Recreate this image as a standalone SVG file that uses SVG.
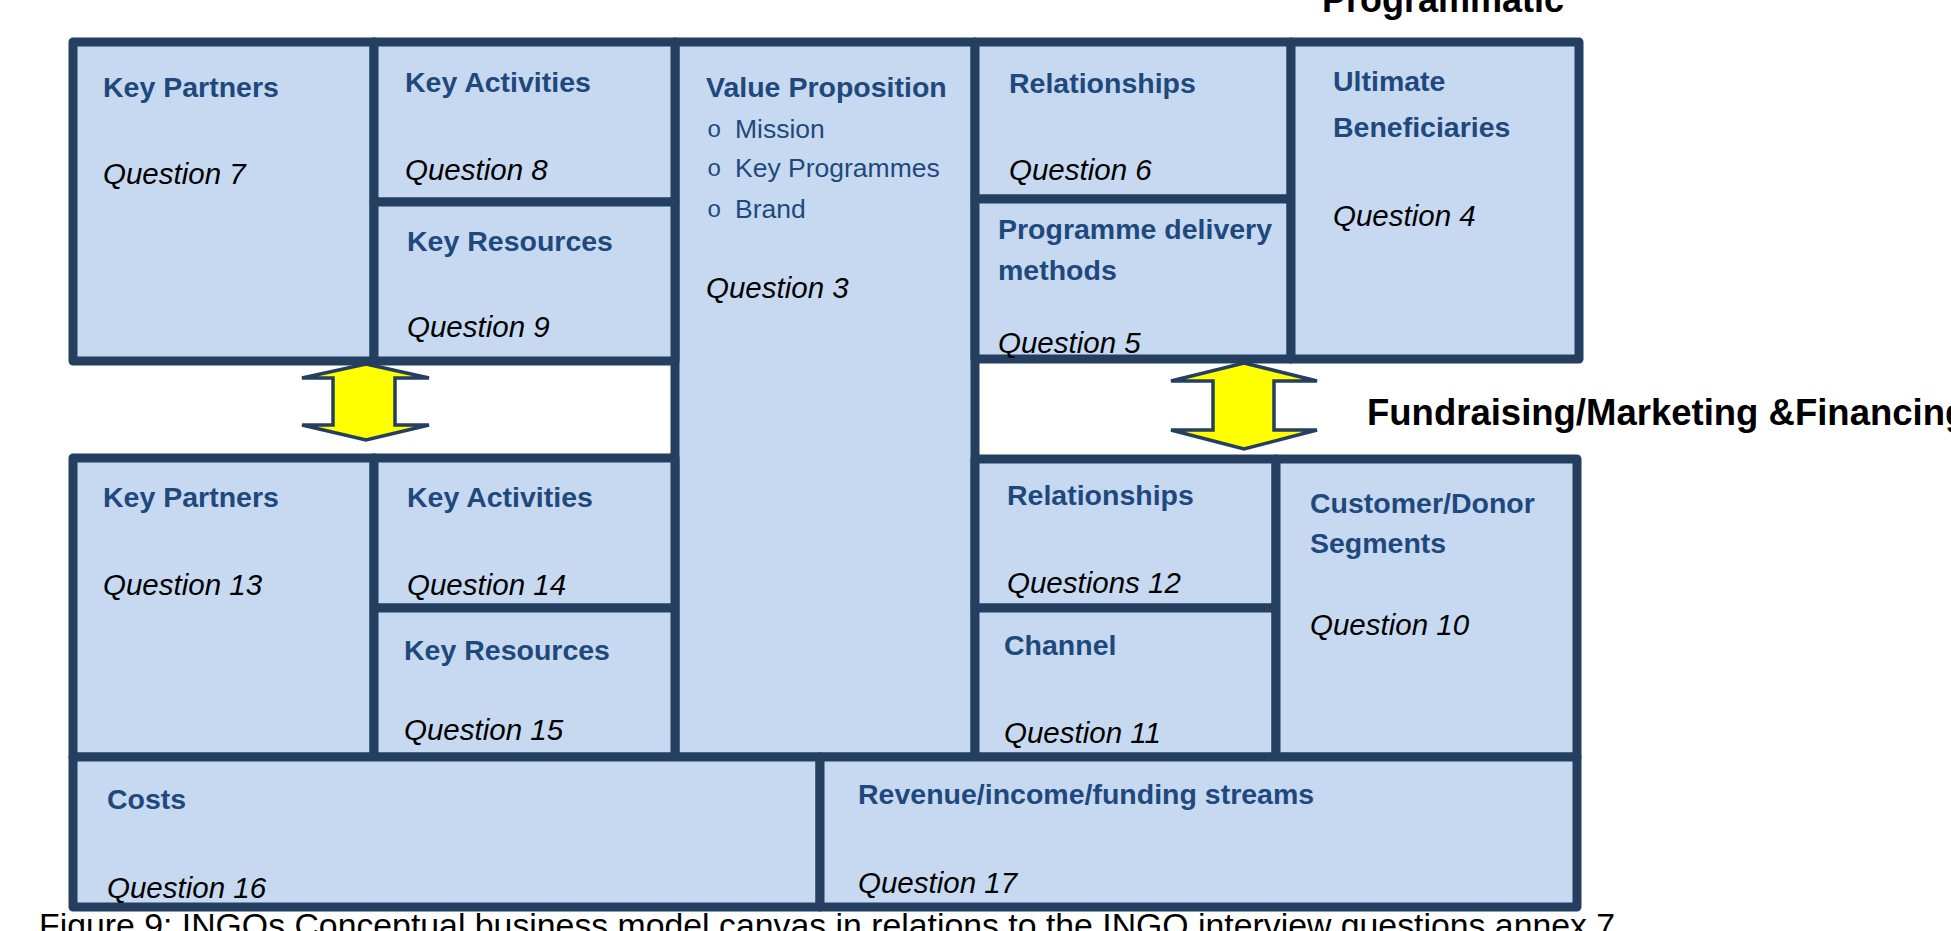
<svg xmlns="http://www.w3.org/2000/svg" width="1951" height="931" viewBox="0 0 1951 931">
<style>
.box{fill:#c6d9f1;stroke:#243f60;stroke-width:9;stroke-linejoin:round}
.h{font-family:"Liberation Sans",Arial,sans-serif;font-weight:bold;font-size:28.5px;fill:#1f497d}
.q{font-family:"Liberation Sans",Arial,sans-serif;font-style:italic;font-size:29.5px;fill:#000}
.b{font-family:"Liberation Sans",Arial,sans-serif;font-size:26.5px;fill:#1f497d}
.bul{font-family:"Liberation Mono","Courier New",monospace;font-size:24px;fill:#1f497d}
.t{font-family:"Liberation Sans",Arial,sans-serif;font-weight:bold;fill:#000}
.cap{font-family:"Liberation Sans",Arial,sans-serif;font-size:33.8px;fill:#000}
.arr{fill:#ffff00;stroke:#243f60;stroke-width:3.5;stroke-linejoin:miter}
</style>
<rect width="1951" height="931" fill="#fff"/>
<text class="t" x="1322" y="12" font-size="36">Programmatic</text>
<text class="t" x="1367" y="425" font-size="36.5">Fundraising/Marketing &amp;Financing</text>

<g id="vp">
<rect class="box" x="675" y="42" width="300" height="715"/>
<text class="h" x="706" y="97" font-size="27">Value Proposition</text>
<text class="bul" x="707" y="137">o</text><text class="b" x="735" y="138">Mission</text>
<text class="bul" x="707" y="176">o</text><text class="b" x="735" y="177">Key Programmes</text>
<text class="bul" x="707" y="217">o</text><text class="b" x="735" y="218">Brand</text>
<text class="q" x="706" y="298">Question 3</text>
</g>

<g id="kp-top">
<rect class="box" x="73" y="42" width="301" height="319"/>
<text class="h" x="103" y="97">Key Partners</text>
<text class="q" x="103" y="184">Question 7</text>
</g>
<g id="ka-top">
<rect class="box" x="374" y="42" width="301" height="160"/>
<text class="h" x="405" y="92">Key Activities</text>
<text class="q" x="405" y="180">Question 8</text>
</g>
<g id="kr-top">
<rect class="box" x="374" y="202" width="301" height="159"/>
<text class="h" x="407" y="251">Key Resources</text>
<text class="q" x="407" y="337">Question 9</text>
</g>
<g id="rel-top">
<rect class="box" x="975" y="42" width="316" height="157"/>
<text class="h" x="1009" y="93">Relationships</text>
<text class="q" x="1009" y="180">Question 6</text>
</g>
<g id="pdm">
<rect class="box" x="975" y="199" width="316" height="160"/>
<text class="h" x="998" y="239">Programme delivery</text>
<text class="h" x="998" y="280">methods</text>
<text class="q" x="998" y="353">Question 5</text>
</g>
<g id="ub">
<rect class="box" x="1291" y="42" width="288" height="317"/>
<text class="h" x="1333" y="91">Ultimate</text>
<text class="h" x="1333" y="137">Beneficiaries</text>
<text class="q" x="1333" y="226">Question 4</text>
</g>

<g id="kp-low">
<rect class="box" x="73" y="458" width="301" height="299"/>
<text class="h" x="103" y="507">Key Partners</text>
<text class="q" x="103" y="595">Question 13</text>
</g>
<g id="ka-low">
<rect class="box" x="374" y="458" width="301" height="150"/>
<text class="h" x="407" y="507">Key Activities</text>
<text class="q" x="407" y="595">Question 14</text>
</g>
<g id="kr-low">
<rect class="box" x="374" y="608" width="301" height="149"/>
<text class="h" x="404" y="660">Key Resources</text>
<text class="q" x="404" y="740">Question 15</text>
</g>
<g id="rel-low">
<rect class="box" x="975" y="459" width="301" height="149"/>
<text class="h" x="1007" y="505">Relationships</text>
<text class="q" x="1007" y="593">Questions 12</text>
</g>
<g id="channel">
<rect class="box" x="975" y="608" width="301" height="149"/>
<text class="h" x="1004" y="655">Channel</text>
<text class="q" x="1004" y="743">Question 11</text>
</g>
<g id="cds">
<rect class="box" x="1276" y="459" width="301" height="298"/>
<text class="h" x="1310" y="513">Customer/Donor</text>
<text class="h" x="1310" y="553">Segments</text>
<text class="q" x="1310" y="635">Question 10</text>
</g>
<g id="costs">
<rect class="box" x="73" y="757" width="747" height="150"/>
<text class="h" x="107" y="809">Costs</text>
<text class="q" x="107" y="898">Question 16</text>
</g>
<g id="revenue">
<rect class="box" x="820" y="757" width="757" height="150"/>
<text class="h" x="858" y="804">Revenue/income/funding streams</text>
<text class="q" x="858" y="893">Question 17</text>
</g>

<g id="connectors">
<polygon class="arr" points="366,364 429,378 395,378 395,425 429,425 366,440 302,425 333,425 333,378 302,378"/>
<polygon class="arr" points="1244,363 1317,381 1274,381 1274,430 1317,430 1244,449 1171,430 1213,430 1213,381 1171,381"/>
</g>

<text class="cap" x="39" y="937">Figure 9: INGOs Conceptual business model canvas in relations to the INGO interview questions annex 7</text>
</svg>
